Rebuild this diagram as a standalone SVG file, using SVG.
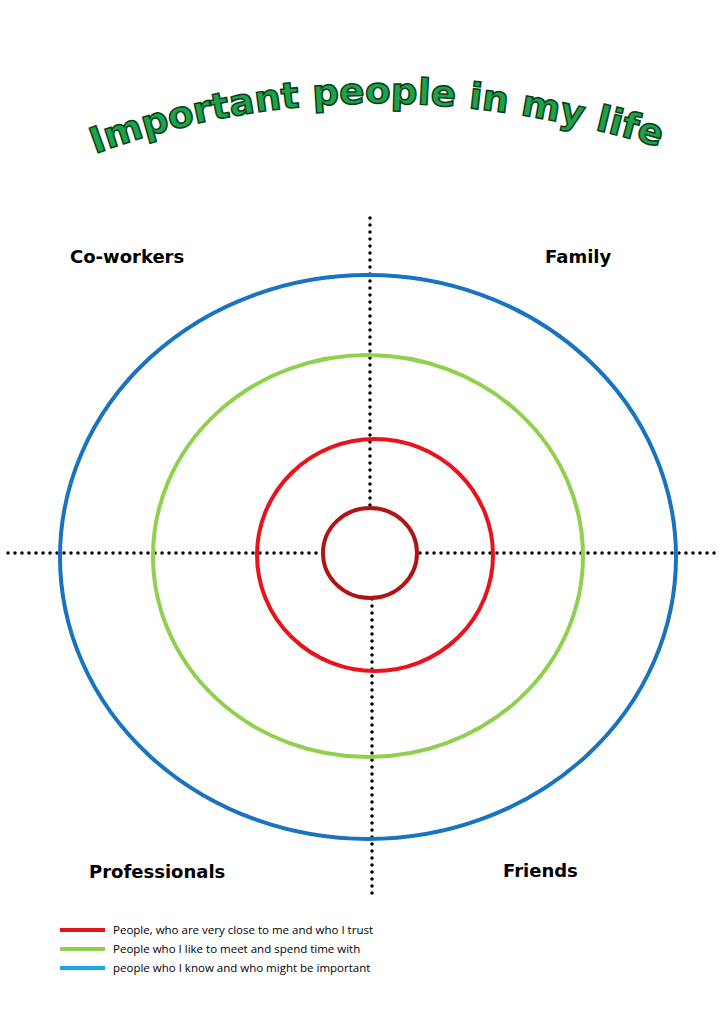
<svg xmlns="http://www.w3.org/2000/svg" width="724" height="1024" viewBox="0 0 724 1024">
<style>
.lbl{font-family:"DejaVu Sans",sans-serif;font-weight:bold;font-size:18px;fill:#000}
.leg{font-family:"Open Sans","Liberation Sans",sans-serif;font-size:11.5px;fill:#000}
.dot{stroke:#000;stroke-width:3.5;stroke-linecap:round;stroke-dasharray:0 7;fill:none}
.ring{fill:none;stroke-width:4}
</style>
<rect width="724" height="1024" fill="#fff"/>
<defs><path id="arc" d="M95,154 Q375,50 700,160"/></defs>
<g id="title">
<text font-family="'DejaVu Sans',sans-serif" font-weight="900" font-size="36" fill="#1aa34a" stroke="#0a3d1a" stroke-width="1.5"><textPath href="#arc" textLength="575" lengthAdjust="spacingAndGlyphs">Important people in my life</textPath></text>
</g>
<g id="connectors">
<path class="dot" d="M370,218 V506 M372,599 V900 M8,553 H321 M420,553 H720"/>
</g>
<g id="ring-blue"><ellipse class="ring" cx="368" cy="557" rx="308" ry="282" stroke="#1a73c0"/></g>
<g id="ring-green"><ellipse class="ring" cx="368" cy="556" rx="215" ry="201" stroke="#8fd14f"/></g>
<g id="ring-red"><ellipse class="ring" cx="375" cy="555" rx="118" ry="116" stroke="#e8141c"/></g>
<g id="ring-core"><ellipse class="ring" cx="370" cy="553" rx="47" ry="45" stroke="#b01417"/></g>
<g id="label-coworkers"><text class="lbl" x="70" y="263">Co-workers</text></g>
<g id="label-family"><text class="lbl" x="545" y="263">Family</text></g>
<g id="label-professionals"><text class="lbl" x="89" y="878">Professionals</text></g>
<g id="label-friends"><text class="lbl" x="503" y="877">Friends</text></g>
<g id="legend">
<line x1="60" y1="930" x2="105" y2="930" stroke="#e8141c" stroke-width="4"/>
<line x1="60" y1="949" x2="105" y2="949" stroke="#8fd14f" stroke-width="4"/>
<line x1="60" y1="968" x2="105" y2="968" stroke="#1aa6e6" stroke-width="4"/>
<text class="leg" x="113" y="934">People, who are very close to me and who I trust</text>
<text class="leg" x="113" y="953">People who I like to meet and spend time with</text>
<text class="leg" x="113" y="972">people who I know and who might be important</text>
</g>
</svg>
